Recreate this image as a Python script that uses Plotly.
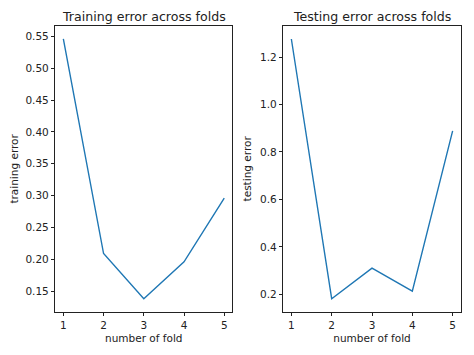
import plotly.graph_objects as go

folds = [1, 2, 3, 4, 5]
train_err = [0.546, 0.209, 0.138, 0.196, 0.296]
test_err = [1.276, 0.182, 0.311, 0.214, 0.889]

# page body has an 8px margin, so the figure is sized to fit the window
OFF = 8
W, H = 474 - OFF, 355 - OFF
line_color = "#1f77b4"
font = "DejaVu Sans"

fig = go.Figure()
fig.add_trace(go.Scatter(x=folds, y=train_err, mode="lines",
                         line=dict(color=line_color, width=1.4),
                         xaxis="x", yaxis="y", showlegend=False))
fig.add_trace(go.Scatter(x=folds, y=test_err, mode="lines",
                         line=dict(color=line_color, width=1.4),
                         xaxis="x2", yaxis="y2", showlegend=False))

def pad(vals, frac=0.05):
    lo, hi = min(vals), max(vals)
    m = (hi - lo) * frac
    return [lo - m, hi + m]

def xd(a, b):
    return [(a - OFF) / W, (b - OFF) / W]

ydom = [(H - (311.7 - OFF)) / H, (H - (26 - OFF)) / H]
dom1 = xd(55.3, 232.3)
dom2 = xd(283.3, 460.7)

axis_common = dict(showline=True, mirror=True, linecolor="#222", linewidth=0.8,
                   ticks="outside", ticklen=3.5, tickwidth=0.8, tickcolor="#222",
                   showgrid=False, zeroline=False, automargin=False,
                   tickfont=dict(family=font, size=10.5, color="#222"),
                   title_font=dict(family=font, size=10.5, color="#222"))

fig.update_layout(
    width=W, height=H,
    margin=dict(l=0, r=0, t=0, b=0),
    paper_bgcolor="white", plot_bgcolor="white",
    font=dict(family=font, size=10, color="#222"),
    xaxis=dict(domain=dom1, anchor="y", range=pad(folds), tickvals=folds,
               title=dict(text="number of fold", standoff=4), **axis_common),
    yaxis=dict(domain=ydom, anchor="x", range=pad(train_err),
               tickvals=[0.15, 0.20, 0.25, 0.30, 0.35, 0.40, 0.45, 0.50, 0.55],
               tickformat=".2f",
               title=dict(text="training error", standoff=6), **axis_common),
    xaxis2=dict(domain=dom2, anchor="y2", range=pad(folds), tickvals=folds,
                title=dict(text="number of fold", standoff=4), **axis_common),
    yaxis2=dict(domain=ydom, anchor="x2", range=pad(test_err),
                tickvals=[0.2, 0.4, 0.6, 0.8, 1.0, 1.2], tickformat=".1f",
                title=dict(text="testing error", standoff=6), **axis_common),
    annotations=[
        dict(text="Training error across folds", x=(dom1[0] + dom1[1]) / 2, y=ydom[1],
             xref="paper", yref="paper", xanchor="center", yanchor="bottom", yshift=0,
             showarrow=False, font=dict(family=font, size=12.6, color="#222")),
        dict(text="Testing error across folds", x=(dom2[0] + dom2[1]) / 2, y=ydom[1],
             xref="paper", yref="paper", xanchor="center", yanchor="bottom", yshift=0,
             showarrow=False, font=dict(family=font, size=12.6, color="#222")),
    ],
)

fig.write_html("out.html")
